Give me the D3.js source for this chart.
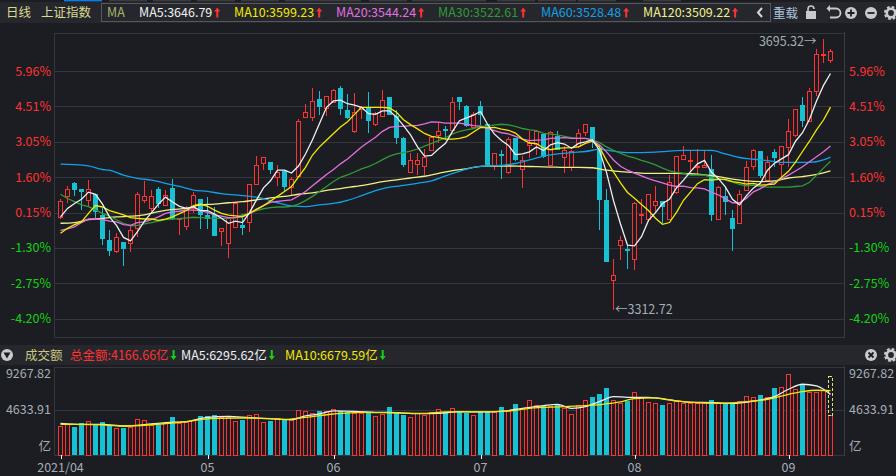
<!DOCTYPE html>
<html>
<head>
<meta charset="utf-8">
<style>
  html, body { margin: 0; padding: 0; background: #1b1d22; }
  svg { display: block; }
  text { font-family: "Noto Sans CJK SC", "Noto Sans", sans-serif; font-size: 12.5px; }
  .axis path, .axis line { display: none; }
</style>
<script src="https://cdn.jsdelivr.net/npm/d3@7/dist/d3.min.js"></script>
</head>
<body>
<svg id="chart" width="896" height="476"></svg>
<script>
// Shanghai Composite daily candles, April to 8 September 2021
const opens = [
  3444,3474,3492,3484,3467,3476,3447,3411,3396,3409,
  3407,3429,3467,3456,3484,3461,3485,3441,3432,3456,
  3469,3446,3447,3424,3407,3429,3433,3436,3490,3520,
  3522,3500,3509,3486,3502,3586,3585,3611,3598,3607,
  3626,3595,3565,3596,3598,3575,3588,3614,3587,3556,
  3508,3520,3515,3539,3560,3568,3567,3613,3601,3572,
  3601,3576,3517,3533,3508,3556,3511,3545,3548,3561,
  3518,3559,3529,3514,3543,3563,3571,3541,3468,3355,
  3404,3398,3385,3447,3442,3461,3466,3441,3479,3526,
  3522,3514,3514,3512,3441,3474,3442,3436,3482,3516,
  3537,3495,3536,3518,3543,3559,3602,3579,3622,3673,3665];
const highs = [
  3470,3488,3493,3484,3496,3477,3456,3426,3421,3409,
  3431,3479,3495,3482,3486,3482,3498,3443,3459,3479,
  3469,3472,3458,3429,3444,3465,3448,3491,3530,3529,
  3522,3517,3511,3500,3583,3604,3626,3622,3615,3625,
  3629,3618,3619,3601,3621,3593,3624,3614,3595,3557,
  3535,3535,3540,3557,3578,3572,3613,3614,3602,3593,
  3608,3576,3534,3539,3557,3556,3530,3565,3567,3562,
  3565,3565,3544,3539,3569,3576,3571,3546,3484,3385,
  3417,3404,3465,3470,3477,3487,3466,3503,3530,3544,
  3538,3540,3537,3532,3488,3487,3454,3482,3523,3540,
  3537,3530,3540,3544,3582,3597,3613,3626,3681,3695.32,3682];
const lows = [
  3441,3464,3473,3454,3459,3442,3404,3389,3393,3374,
  3395,3416,3464,3451,3456,3459,3440,3418,3425,3449,
  3427,3427,3417,3403,3386,3429,3418,3423,3489,3511,
  3505,3487,3480,3473,3502,3585,3580,3588,3586,3605,
  3588,3583,3562,3583,3563,3572,3586,3588,3547,3514,
  3508,3503,3503,3538,3548,3553,3565,3595,3571,3571,
  3574,3515,3510,3498,3505,3523,3485,3527,3531,3527,
  3516,3539,3506,3509,3542,3559,3541,3425,3381,3312.72,
  3383,3371,3369,3434,3440,3449,3436,3440,3477,3524,
  3508,3503,3513,3438,3440,3447,3396,3436,3482,3510,
  3499,3494,3514,3501,3515,3557,3571,3578,3615,3661,3662];
const closes = [
  3466,3484,3482,3480,3483,3450,3413,3396,3416,3399,
  3426,3477,3473,3473,3463,3475,3441,3443,3457,3475,
  3447,3441,3418,3428,3442,3463,3429,3490,3517,3528,
  3510,3507,3486,3497,3580,3593,3608,3600,3615,3624,
  3596,3583,3592,3599,3579,3591,3610,3589,3556,3518,
  3525,3525,3528,3557,3566,3566,3607,3606,3573,3590,
  3588,3518,3534,3530,3554,3525,3524,3548,3566,3528,
  3564,3539,3539,3537,3562,3575,3550,3467,3381,3362,
  3411,3397,3464,3448,3477,3466,3458,3494,3530,3532,
  3524,3516,3517,3447,3486,3466,3427,3477,3514,3539,
  3501,3521,3527,3544,3566,3596,3580,3622,3675,3675,3678];

// Moving averages of the close, one value per session
const ma5 = [
  3444,3456,3463,3469,3479,3476,3462,3444,3432,3415,
  3410,3423,3438,3450,3462,3472,3465,3459,3456,3458,
  3453,3453,3448,3442,3435,3438,3436,3450,3468,3485,
  3495,3510,3510,3506,3516,3533,3553,3576,3599,3608,
  3609,3604,3602,3599,3590,3589,3594,3594,3585,3573,
  3560,3543,3530,3531,3540,3548,3565,3580,3584,3588,
  3593,3575,3561,3552,3545,3532,3533,3536,3543,3538,
  3546,3549,3547,3541,3548,3550,3553,3538,3507,3467,
  3434,3404,3403,3416,3439,3450,3463,3469,3485,3496,
  3508,3519,3524,3507,3498,3486,3469,3461,3474,3485,
  3492,3510,3520,3526,3532,3551,3563,3582,3608,3630,3646.79];
const ma10 = [
  3421,3428,3433,3437,3449,3460,3458,3453,3450,3447,
  3443,3442,3441,3441,3439,3441,3444,3448.5,3453,3460,
  3462.5,3459,3453.5,3449,3446.5,3445.5,3444.5,3449,3455,3460,
  3466.5,3473,3480,3487,3500.5,3514,3531.5,3543,3552.5,3562,
  3571,3578.5,3589,3599,3599,3599,3599,3598,3592,3581.5,
  3574.5,3568.5,3562,3558,3556.5,3554,3554,3555,3557.5,3564,
  3570.5,3570,3570.5,3568,3566.5,3562.5,3554,3548.5,3547.5,3541.5,
  3539,3541,3541.5,3542,3543,3548,3551,3542.5,3524,3507.5,
  3492,3478.5,3470.5,3461.5,3453,3442,3433.5,3436,3450.5,3467.5,
  3479,3491,3496.5,3496,3497,3497,3494,3492.5,3490.5,3491.5,
  3489,3489.5,3490.5,3500,3508.5,3521.5,3536.5,3551,3567,3581,3599.23];
const ma20 = [
  3425,3427,3430,3436,3441,3441,3440,3438,3437,3433,
  3432,3436,3437,3440,3444,3449,3451,3452,3454,3453.5,
  3453,3450.5,3447,3445,3443,3443,3444,3449,3454,3460,
  3464.5,3466,3467,3468,3473.5,3480,3488,3496,3504,3511,
  3519,3526,3534.5,3543,3550,3556.5,3565,3570.5,3572,3572,
  3573,3573.5,3575.5,3578.5,3578,3576.5,3576.5,3576.5,3575,3573,
  3572.5,3569,3566,3563,3561.5,3558,3554,3552,3552.5,3553,
  3555,3555.5,3556,3555,3555,3555,3552.5,3545.5,3536,3524.5,
  3515.5,3510,3506,3502,3498,3495,3492,3489,3487,3487.5,
  3485.5,3485,3483.5,3479,3475,3469.5,3464,3464,3470.5,3479.5,
  3484,3490,3493.5,3498,3503,3509,3515,3522,3529,3536,3544.24];
const ma30 = [
  3476,3470,3465.5,3461,3458.5,3454,3449,3445,3440,3435,
  3431.5,3432,3434,3436,3438,3440,3441,3441.5,3442.5,3443.5,
  3443,3442.5,3442,3442,3442,3443,3447,3449,3453,3455.5,
  3457,3458,3458,3459,3462,3467,3473,3480,3487,3494,
  3500,3503.5,3507.5,3512,3515,3519.5,3525,3530,3533,3535,
  3537,3540,3544,3548,3552,3556,3561.5,3565,3567,3569,
  3572,3572,3574,3575,3574,3572,3569,3567,3566,3562,
  3561,3560,3558,3556,3555,3555,3553,3549,3543,3538,
  3534,3530,3527.5,3524,3521,3517.5,3513,3509,3507,3505.5,
  3503,3503.5,3503,3500,3498,3496,3493,3490,3488,3489,
  3487,3486,3486,3486,3486,3487,3488,3493,3503,3513,3522.61];

// The two slow averages are listed at the sessions given in their bar arrays
const ma60Bars = [0,2,4,6,7,9,11,13,15,17,19,21,23,25,27,29,31,33,35,37,39,41,43,45,47,49,51,53,55,57,59,61,63,65,67,69,71,73,75,77,79,81,83,85,87,89,91,93,95,97,99,101,103,105,107,109,110];
const ma60 = [
  3518.5,3518,3516,3511,3510,3503,3498.5,3496,3491.5,3487,
  3482,3480,3477,3475,3473,3470,3464,3459.5,3458.5,3461,
  3463,3467.5,3474,3481,3486,3488.5,3491.5,3495,3502,3508.5,
  3514,3516,3517,3519.5,3524.5,3530,3533,3535,3536.5,3539.5,
  3537,3535,3535,3535.5,3537,3538,3538,3538,3533,3528,
  3525.5,3523.5,3521,3521,3521,3524.5,3528.48];
const ma120Bars = [0,2,4,6,8,10,12,14,16,18,20,22,24,26,28,30,32,34,36,38,40,42,44,46,48,50,52,54,56,58,60,62,64,66,68,70,72,74,76,78,80,82,84,86,88,90,92,94,96,98,100,102,104,106,108,110];
const ma120 = [
  3435,3436,3440,3442,3444,3445,3447,3451.5,3454.5,3456,
  3461,3462,3464,3465.5,3468,3471,3473,3476,3478,3481.5,
  3484,3487,3490,3494,3496.5,3499,3501.5,3505.5,3509.5,3512,
  3515.5,3516,3516,3515.5,3515,3514.5,3514,3514,3513.5,3510,
  3508,3506.5,3505.5,3505.5,3505.5,3505,3503.5,3501,3497.5,3495,
  3494,3495,3499,3501,3504,3509.22];

// Turnover per session, in 亿 yuan
const turnover = [
  2961,3170,2892,3275,3484,3136,3414,2996,2752,2822,
  2927,3693,3589,3136,3136,3275,3937,3275,3414,3623,
  4041,4041,4146,3972,3972,3484,3623,4111,4216,3379,
  3519,3867,3693,3589,4703,4529,4320,4564,4564,4738,
  4529,4494,4320,4355,4390,4007,4285,4982,4390,4146,
  3902,4390,4181,4460,4738,4494,4843,4529,4390,4111,
  4425,4425,4460,4982,4564,5296,4912,5679,5156,5121,
  5121,5261,4843,4216,5156,5679,6027,6341,6968,5679,
  5400,5644,6515,5992,5470,5365,5191,5365,5574,5365,
  5365,5365,5365,5714,5365,5365,5435,5574,6097,5992,
  6236,5992,6968,7038,8396,6829,7386,6585,6585,6759,4166.66];
const turnoverMa5Bars = [0,3,6,9,12,15,18,21,24,27,30,33,35,37,39,42,45,48,51,54,57,60,63,66,69,71,73,75,77,79,81,84,87,90,93,96,99,102,104,106,108,110];
const turnoverMa5 = [
  3275,3170,3170,2996,3136,3345,3449,3902,4007,3867,3763,3658,4041,4250,4564,4529,4425,4390,4285,4320,
  4494,4460,4529,4843,5121,5261,4843,5017,5540,6062,5992,5992,5714,5470,5435,5365,5609,6062,6829,7351,7177,6295.62];
const turnoverMa10Bars = [0,5,9,15,18,22,27,32,35,39,43,48,52,55,60,64,67,72,77,80,82,85,88,91,94,97,101,104,106,108,110];
const turnoverMa10 = [
  3170,3136,2996,3240,3449,3798,3832,3693,3902,4250,4425,4355,4320,4460,4460,4564,4843,5017,5226,5505,
  5853,5923,5609,5435,5365,5470,5783,6306,6585,6724,6679.59];
const turnoverFullDayEstimate = 8184;

// Axis labels and header readouts
const basePrice = 3445;
const percentTicks = [5.96, 4.51, 3.05, 1.60, 0.15, -1.30, -2.75, -4.20];
const monthBars = [0, 21, 39, 60, 82, 104];
const monthLabels = ["2021/04", "05", "06", "07", "08", "09"];
const turnoverTicks = [4633.91, 9267.82];
const priceHigh = 3695.32, priceLow = 3312.72;

const priceLabels = ["MA5:3646.79", "MA10:3599.23", "MA20:3544.24", "MA30:3522.61", "MA60:3528.48", "MA120:3509.22"];
const priceLabelX = [139, 234, 336, 438, 541, 643];
const maColors = ["#eef0f2", "#f2ea00", "#e36fe0", "#2f9a36", "#12a0e6", "#f1ef8a"];
const volumeLabels = ["总金额:4166.66亿", "MA5:6295.62亿", "MA10:6679.59亿"];
const volumeLabelX = [70, 181, 285];
const volumeColors = ["#ff3232", "#eef0f2", "#f2ea00"];
const tabStarts = [64, 109, 153, 197, 241, 285, 323, 369, 412, 448, 497, 538, 578, 643];

const UP = "#ff3232", DOWN = "#17c1d3", BG = "#1b1d22", GRID = "#33363b", AXIS = "#a6adb5";
const bars = d3.range(closes.length);

const svg = d3.select("#chart");
const x = d3.scaleLinear().domain([0, closes.length - 1]).range([60.5, 830.5]);
const px = i => Math.floor(x(i));
const yPct = d3.scaleLinear().domain([-4.20, 5.96]).range([318.5, 71]);
const y = p => yPct((p / basePrice - 1) * 100);
const yVol = d3.scaleLinear().domain([0, 9267.82]).range([454.7, 365.9]);

// Header and sub-chart bands
svg.append("rect").attr("width", 896).attr("height", 476).attr("fill", BG);
svg.append("rect").attr("y", 2).attr("width", 896).attr("height", 21).attr("fill", "#25272c");
svg.append("rect").attr("y", 345).attr("width", 896).attr("height", 20).attr("fill", "#25272c");
svg.selectAll(".tab").data(tabStarts).join("rect").attr("class", "tab")
  .attr("x", d => d).attr("y", 0).attr("width", 38).attr("height", 1.4)
  .attr("fill", (d, i) => i === 0 ? "#0a7fe0" : "#3a3c40");
svg.append("rect").attr("x", 101.5).attr("y", 3.5).attr("width", 669).attr("height", 18)
  .attr("fill", "none").attr("stroke", "#55585d");

// Panel frames and grid
const crisp = sel => sel.attr("shape-rendering", "crispEdges");
const frame = [[54, 33, 844, 337], [54, 367, 844, 455]];
frame.forEach(([a, b, c, d]) => {
  crisp(svg.append("path").attr("d", `M${c + .5},${b + .5}H${a + .5}V${d + .5}H${c + .5}`)
    .attr("fill", "none").attr("stroke", GRID));
  crisp(svg.append("line").attr("x1", c + .5).attr("x2", c + .5).attr("y1", b - 1).attr("y2", d + 1).attr("stroke", "#3a3d42"));
});
crisp(svg.selectAll(".grid").data(percentTicks).join("line").attr("class", "grid")
  .attr("x1", 54).attr("x2", 844)
  .attr("y1", d => Math.round(yPct(d)) + .5).attr("y2", d => Math.round(yPct(d)) + .5)
  .attr("stroke", GRID));
crisp(svg.append("line").attr("x1", 54).attr("x2", 844)
  .attr("y1", Math.round(yVol(turnoverTicks[0])) + .5).attr("y2", Math.round(yVol(turnoverTicks[0])) + .5)
  .attr("stroke", GRID));

// Percent axes on both sides
const pctLabel = d => d.toFixed(2) + "%";
const pctColor = d => d >= 0 ? UP : "#12d312";
[[d3.axisLeft, 51, "end"], [d3.axisRight, 849, "start"]].forEach(([axis, tx, anchor]) => {
  const g = svg.append("g").attr("class", "axis")
    .attr("transform", `translate(${tx},0)`)
    .call(axis(yPct).tickValues(percentTicks).tickFormat(pctLabel).tickSize(0).tickPadding(0));
  g.selectAll("text").attr("text-anchor", anchor).attr("fill", pctColor)
    .attr("font-size", 12.5).style("font-size", "12.5px");
});

// Candles: hollow red rises, solid cyan falls
const candles = svg.append("g");
const isUp = i => closes[i] >= opens[i];
crisp(candles.selectAll("line.wick").data(bars).join("line").attr("class", "wick")
  .attr("x1", i => px(i) + .5).attr("x2", i => px(i) + .5)
  .attr("y1", i => y(highs[i])).attr("y2", i => y(lows[i]))
  .attr("stroke", i => isUp(i) ? UP : DOWN));
crisp(candles.selectAll("rect.body").data(bars).join("rect").attr("class", "body")
  .attr("x", i => isUp(i) ? px(i) - 1.5 : px(i) - 2)
  .attr("width", i => isUp(i) ? 4 : 5)
  .attr("y", i => Math.round(y(Math.max(opens[i], closes[i]))) + (isUp(i) ? .5 : 0))
  .attr("height", i => {
    const h = Math.round(Math.abs(y(opens[i]) - y(closes[i])));
    return isUp(i) ? Math.max(1, h) : Math.max(2, h);
  })
  .attr("fill", i => isUp(i) ? BG : DOWN)
  .attr("stroke", i => isUp(i) ? UP : "none"));

// Moving average lines
const lineEvery = d3.line().x((d, i) => x(i)).y(d => y(d));
const lineAt = barList => d3.line().x((d, i) => x(barList[i])).y(d => y(d)).curve(d3.curveMonotoneX);
const maLayers = [
  [ma120, maColors[5], lineAt(ma120Bars)],
  [ma60, maColors[4], lineAt(ma60Bars)],
  [ma30, maColors[3], lineEvery],
  [ma20, maColors[2], lineEvery],
  [ma10, maColors[1], lineEvery],
  [ma5, maColors[0], lineEvery]
];
maLayers.forEach(([series, color, gen]) => {
  svg.append("path").attr("d", gen(series)).attr("fill", "none")
    .attr("stroke", color).attr("stroke-width", 1.3);
});

// High and low callouts
const note = (txt, nx, ny, anchor) => svg.append("text").text(txt)
  .attr("x", nx).attr("y", ny).attr("dy", "0.36em").attr("text-anchor", anchor).attr("fill", AXIS);
note(priceHigh.toFixed(2) + "→", x(109) - 7, y(priceHigh) + 2, "end");
note("←" + priceLow.toFixed(2), x(79) + 1.5, y(priceLow), "start");

// Turnover bars
const vols = svg.append("g");
crisp(vols.selectAll("rect.vol").data(bars).join("rect").attr("class", "vol")
  .attr("x", i => isUp(i) ? px(i) - 1.5 : px(i) - 2)
  .attr("width", i => isUp(i) ? 4 : 5)
  .attr("y", i => Math.round(yVol(turnover[i])) + (isUp(i) ? .5 : 0))
  .attr("height", i => yVol(0) - Math.round(yVol(turnover[i])))
  .attr("fill", i => isUp(i) ? BG : DOWN)
  .attr("stroke", i => isUp(i) ? UP : "none"));
const last = closes.length - 1;
crisp(svg.append("rect")
  .attr("x", px(last) - 1.5).attr("width", 4)
  .attr("y", Math.round(yVol(turnoverFullDayEstimate)) + .5)
  .attr("height", Math.round(yVol(turnover[last])) - Math.round(yVol(turnoverFullDayEstimate)))
  .attr("fill", "none").attr("stroke", "#e2e27a").attr("stroke-dasharray", "3 2"));

[[turnoverMa5, turnoverMa5Bars, maColors[0]], [turnoverMa10, turnoverMa10Bars, maColors[1]]].forEach(([s, b, c]) => {
  svg.append("path")
    .attr("d", d3.line().x((d, i) => x(b[i])).y(d => yVol(d)).curve(d3.curveMonotoneX)(s))
    .attr("fill", "none").attr("stroke", c).attr("stroke-width", 1.3);
});

// Month axis under the turnover panel
const monthAxis = d3.axisBottom(x).tickValues(monthBars).tickSize(4).tickPadding(4)
  .tickFormat(d => monthLabels[monthBars.indexOf(d)]);
const mg = svg.append("g").attr("transform", "translate(0.5,455)").call(monthAxis);
mg.select(".domain").remove();
mg.selectAll("line").attr("stroke", "#f0f0f0");
mg.selectAll("text").attr("fill", AXIS).attr("dx", -1).style("font-size", "12.5px");

// Turnover axis labels
[[51, "end"], [849, "start"]].forEach(([tx, anchor]) => {
  const t = (s, ty) => svg.append("text").text(s).attr("x", tx).attr("y", ty).attr("dy", "0.36em")
    .attr("text-anchor", anchor).attr("fill", AXIS);
  t(turnoverTicks[1].toFixed(2), 373);
  t(turnoverTicks[0].toFixed(2), yVol(turnoverTicks[0]) - 0.5);
  t("亿", 446);
});

// Header text
const head = (s, hx, hy, color) => svg.append("text").text(s).attr("x", hx).attr("y", hy)
  .attr("dy", "0.36em").attr("fill", color);
const arrow = (ax, ay, dir, color) => svg.append("path")
  .attr("transform", `translate(${ax},${ay})scale(1,${dir})`)
  .attr("d", "M0,-5L3,-1H1V5H-1V-1H-3Z").attr("fill", color);

head("日线", 6, 12.5, "#d9d992");
head("上证指数", 41, 12.5, "#d9d992");
head("MA", 107, 12.5, "#a7b46c");
priceLabels.forEach((s, i) => {
  const t = head(s, priceLabelX[i], 12.5, maColors[i]);
  arrow(priceLabelX[i] + t.node().getComputedTextLength() + 5, 12.5, 1, UP);
});
head("成交额", 25, 355, "#c9c77e");
volumeLabels.forEach((s, i) => {
  const t = head(s, volumeLabelX[i], 355, volumeColors[i]);
  arrow(volumeLabelX[i] + t.node().getComputedTextLength() + 5, 355, -1, "#12d312");
});

// Toolbar glyphs
const ICON = "#c8cacc";
svg.append("path").attr("d", "M762,8L758,12.5L762,17").attr("fill", "none").attr("stroke", "#d5d7d9").attr("stroke-width", 2);
head("重载", 773, 13, "#a9c3dc");
const lock = svg.append("g").attr("transform", "translate(811,13)");
lock.append("rect").attr("x", -5).attr("y", -2).attr("width", 10).attr("height", 8).attr("fill", ICON);
lock.append("path").attr("d", "M-3,-2V-4A3,3 0 0 1 3,-4").attr("fill", "none").attr("stroke", ICON).attr("stroke-width", 1.6);
svg.append("path").attr("d", "M829,8.5H836A4.5,4.5 0 0 1 836,17.5H830").attr("fill", "none").attr("stroke", ICON).attr("stroke-width", 1.8);
svg.append("path").attr("d", "M830,5L826.5,8.5L830,12Z").attr("fill", ICON);
const disc = (cx, cy, kind) => {
  svg.append("circle").attr("cx", cx).attr("cy", cy).attr("r", 6).attr("fill", ICON);
  const d = kind === "plus" ? `M${cx - 3.5},${cy}H${cx + 3.5}M${cx},${cy - 3.5}V${cy + 3.5}`
    : kind === "minus" ? `M${cx - 3.5},${cy}H${cx + 3.5}`
    : `M${cx - 2.5},${cy - 2.5}L${cx + 2.5},${cy + 2.5}M${cx + 2.5},${cy - 2.5}L${cx - 2.5},${cy + 2.5}`;
  svg.append("path").attr("d", d).attr("stroke", BG).attr("stroke-width", 1.8);
};
disc(851, 13, "plus");
disc(871, 13, "minus");
disc(871, 355, "close");
const gear = (cx, cy) => {
  svg.append("circle").attr("cx", cx).attr("cy", cy).attr("r", 4.2).attr("fill", "none").attr("stroke", ICON).attr("stroke-width", 2.6);
  svg.append("circle").attr("cx", cx).attr("cy", cy).attr("r", 6).attr("fill", "none").attr("stroke", ICON)
    .attr("stroke-width", 2.2).attr("stroke-dasharray", "2.7 2");
};
gear(891, 13);
gear(891, 355);
svg.append("circle").attr("cx", 7).attr("cy", 355).attr("r", 6).attr("fill", ICON);
svg.append("path").attr("d", "M3.5,352.5H10.5L7,358.5Z").attr("fill", BG);
</script>
</body>
</html>
